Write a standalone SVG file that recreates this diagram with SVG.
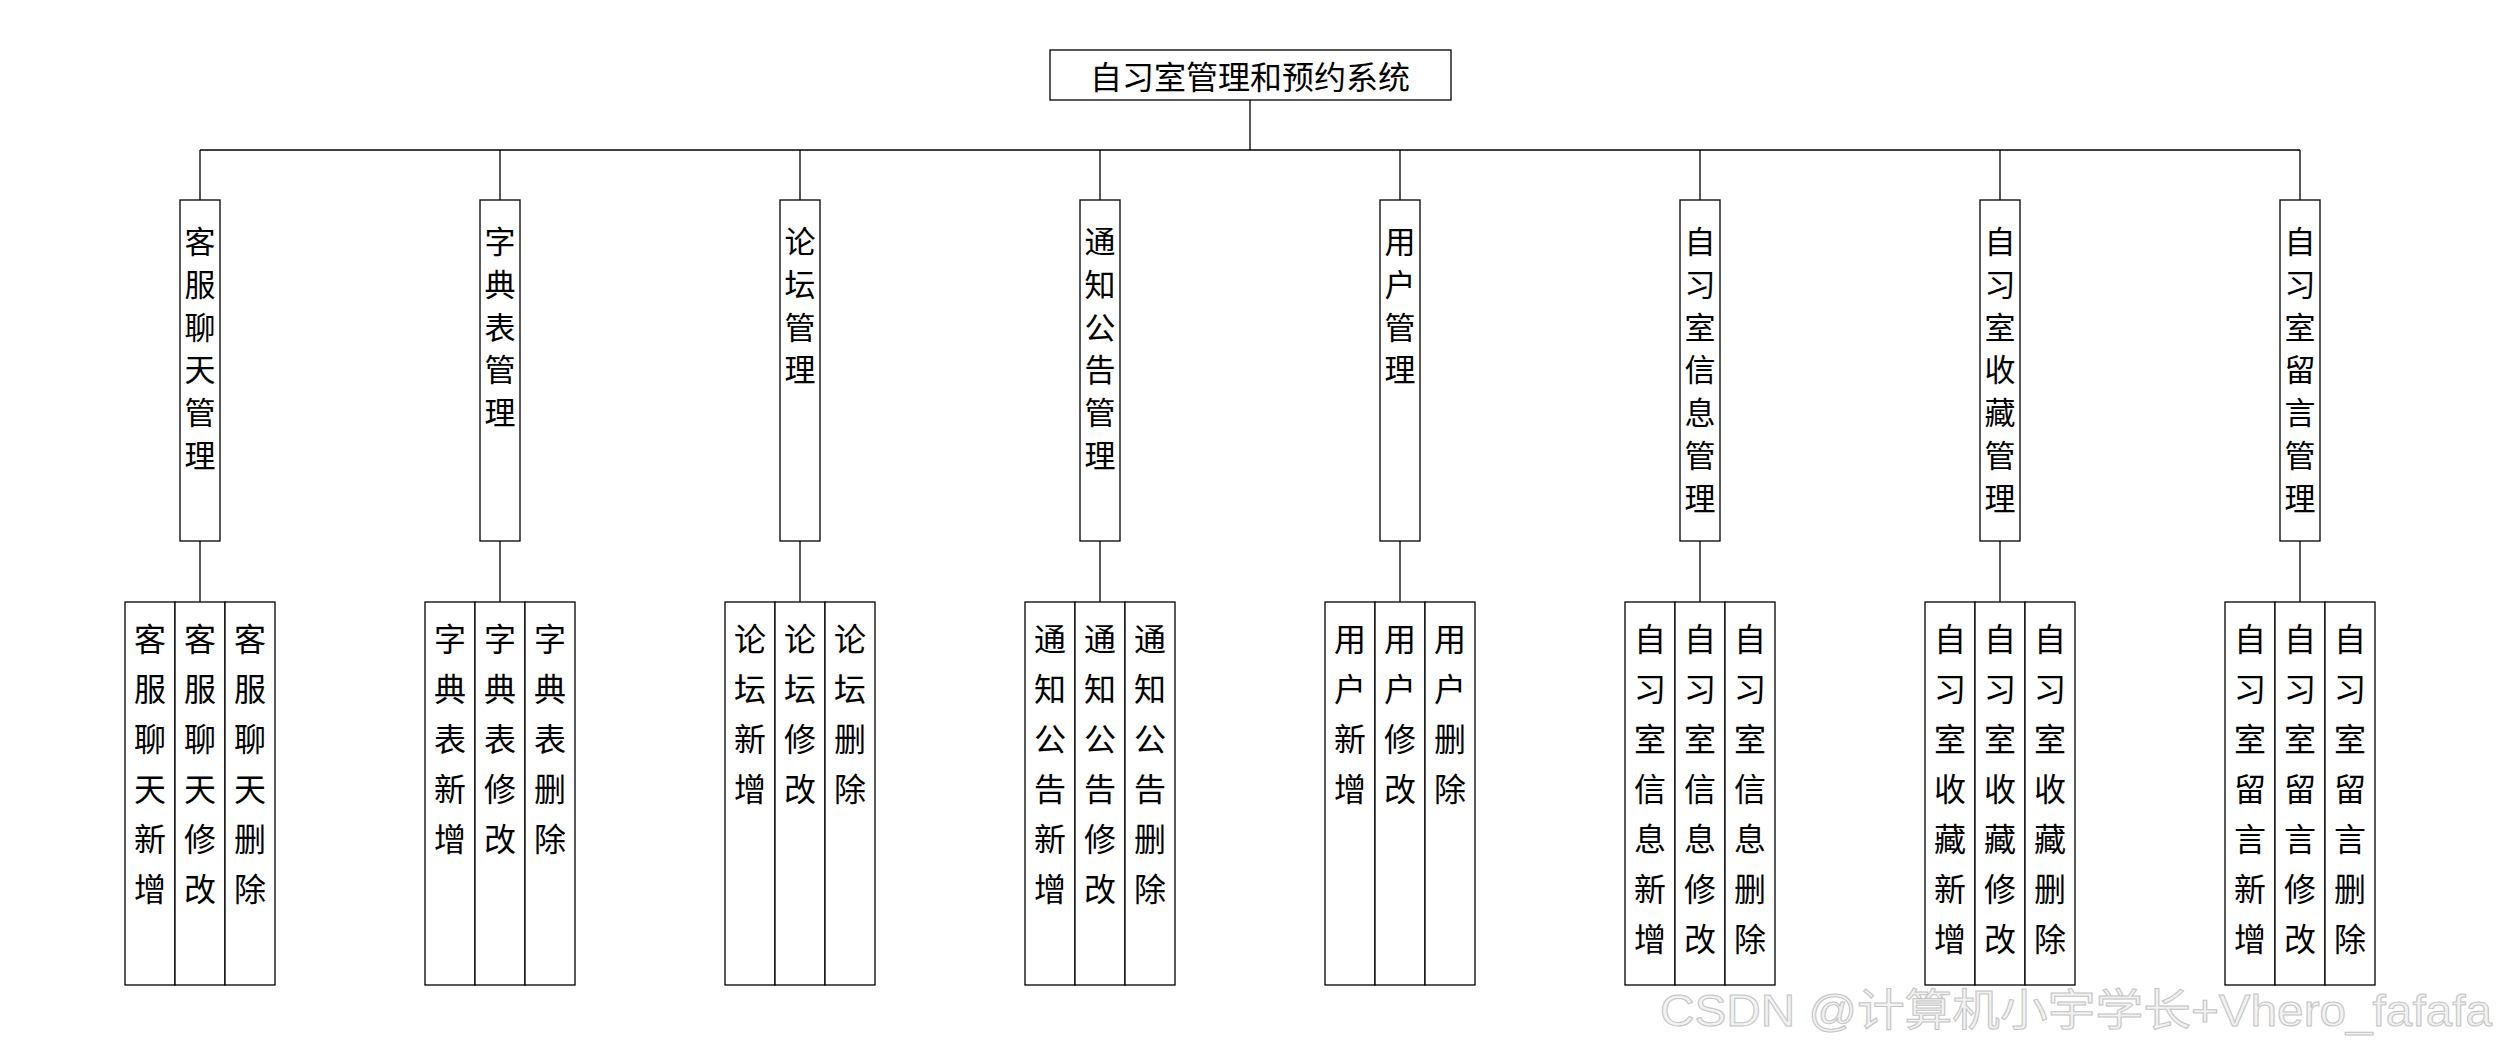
<svg xmlns="http://www.w3.org/2000/svg" width="2500" height="1050" viewBox="0 0 2500 1050">
<style>
.box{fill:#fff;stroke:#000;stroke-width:1.3}
.t{font-family:"Noto Sans CJK SC","Noto Sans",sans-serif;font-size:31px;fill:#000;text-anchor:middle}
.lf{font-size:32px}
.ln{stroke:#000;stroke-width:1.3;fill:none}
.wm{font-family:"Liberation Sans","Noto Sans CJK SC",sans-serif;font-size:44px;fill:#f2f2f2;stroke:#c4c4c4;stroke-width:1}
</style>
<rect width="2500" height="1050" fill="#fff"/>
<g id="connectors">
<path class="ln" d="M1250 100V150M200 150H2300"/>
<path class="ln" d="M200 150V200M500 150V200M800 150V200M1100 150V200M1400 150V200M1700 150V200M2000 150V200M2300 150V200"/>
<path class="ln" d="M200 541V602M500 541V602M800 541V602M1100 541V602M1400 541V602M1700 541V602M2000 541V602M2300 541V602"/>
</g>
<g id="root">
<rect class="box" x="1050" y="50" width="401" height="50"/>
<text class="t" x="1250" y="89" style="font-size:32px">自习室管理和预约系统</text>
</g>
<g id="n0">
<rect class="box" x="180" y="200" width="40" height="341"/>
<text class="t" x="200 200 200 200 200 200" y="253 295.8 338.6 381.4 424.2 467">客服聊天管理</text>
</g>
<g id="n0-leaves">
<rect class="box" x="125" y="602" width="50" height="383"/><rect class="box" x="175" y="602" width="50" height="383"/><rect class="box" x="225" y="602" width="50" height="383"/>
<text class="t lf" x="150 150 150 150 150 150" y="651 701 751 801 851 901">客服聊天新增</text>
<text class="t lf" x="200 200 200 200 200 200" y="651 701 751 801 851 901">客服聊天修改</text>
<text class="t lf" x="250 250 250 250 250 250" y="651 701 751 801 851 901">客服聊天删除</text>
</g>
<g id="n1">
<rect class="box" x="480" y="200" width="40" height="341"/>
<text class="t" x="500 500 500 500 500" y="253 295.8 338.6 381.4 424.2">字典表管理</text>
</g>
<g id="n1-leaves">
<rect class="box" x="425" y="602" width="50" height="383"/><rect class="box" x="475" y="602" width="50" height="383"/><rect class="box" x="525" y="602" width="50" height="383"/>
<text class="t lf" x="450 450 450 450 450" y="651 701 751 801 851">字典表新增</text>
<text class="t lf" x="500 500 500 500 500" y="651 701 751 801 851">字典表修改</text>
<text class="t lf" x="550 550 550 550 550" y="651 701 751 801 851">字典表删除</text>
</g>
<g id="n2">
<rect class="box" x="780" y="200" width="40" height="341"/>
<text class="t" x="800 800 800 800" y="253 295.8 338.6 381.4">论坛管理</text>
</g>
<g id="n2-leaves">
<rect class="box" x="725" y="602" width="50" height="383"/><rect class="box" x="775" y="602" width="50" height="383"/><rect class="box" x="825" y="602" width="50" height="383"/>
<text class="t lf" x="750 750 750 750" y="651 701 751 801">论坛新增</text>
<text class="t lf" x="800 800 800 800" y="651 701 751 801">论坛修改</text>
<text class="t lf" x="850 850 850 850" y="651 701 751 801">论坛删除</text>
</g>
<g id="n3">
<rect class="box" x="1080" y="200" width="40" height="341"/>
<text class="t" x="1100 1100 1100 1100 1100 1100" y="253 295.8 338.6 381.4 424.2 467">通知公告管理</text>
</g>
<g id="n3-leaves">
<rect class="box" x="1025" y="602" width="50" height="383"/><rect class="box" x="1075" y="602" width="50" height="383"/><rect class="box" x="1125" y="602" width="50" height="383"/>
<text class="t lf" x="1050 1050 1050 1050 1050 1050" y="651 701 751 801 851 901">通知公告新增</text>
<text class="t lf" x="1100 1100 1100 1100 1100 1100" y="651 701 751 801 851 901">通知公告修改</text>
<text class="t lf" x="1150 1150 1150 1150 1150 1150" y="651 701 751 801 851 901">通知公告删除</text>
</g>
<g id="n4">
<rect class="box" x="1380" y="200" width="40" height="341"/>
<text class="t" x="1400 1400 1400 1400" y="253 295.8 338.6 381.4">用户管理</text>
</g>
<g id="n4-leaves">
<rect class="box" x="1325" y="602" width="50" height="383"/><rect class="box" x="1375" y="602" width="50" height="383"/><rect class="box" x="1425" y="602" width="50" height="383"/>
<text class="t lf" x="1350 1350 1350 1350" y="651 701 751 801">用户新增</text>
<text class="t lf" x="1400 1400 1400 1400" y="651 701 751 801">用户修改</text>
<text class="t lf" x="1450 1450 1450 1450" y="651 701 751 801">用户删除</text>
</g>
<g id="n5">
<rect class="box" x="1680" y="200" width="40" height="341"/>
<text class="t" x="1700 1700 1700 1700 1700 1700 1700" y="253 295.8 338.6 381.4 424.2 467 509.8">自习室信息管理</text>
</g>
<g id="n5-leaves">
<rect class="box" x="1625" y="602" width="50" height="383"/><rect class="box" x="1675" y="602" width="50" height="383"/><rect class="box" x="1725" y="602" width="50" height="383"/>
<text class="t lf" x="1650 1650 1650 1650 1650 1650 1650" y="651 701 751 801 851 901 951">自习室信息新增</text>
<text class="t lf" x="1700 1700 1700 1700 1700 1700 1700" y="651 701 751 801 851 901 951">自习室信息修改</text>
<text class="t lf" x="1750 1750 1750 1750 1750 1750 1750" y="651 701 751 801 851 901 951">自习室信息删除</text>
</g>
<g id="n6">
<rect class="box" x="1980" y="200" width="40" height="341"/>
<text class="t" x="2000 2000 2000 2000 2000 2000 2000" y="253 295.8 338.6 381.4 424.2 467 509.8">自习室收藏管理</text>
</g>
<g id="n6-leaves">
<rect class="box" x="1925" y="602" width="50" height="383"/><rect class="box" x="1975" y="602" width="50" height="383"/><rect class="box" x="2025" y="602" width="50" height="383"/>
<text class="t lf" x="1950 1950 1950 1950 1950 1950 1950" y="651 701 751 801 851 901 951">自习室收藏新增</text>
<text class="t lf" x="2000 2000 2000 2000 2000 2000 2000" y="651 701 751 801 851 901 951">自习室收藏修改</text>
<text class="t lf" x="2050 2050 2050 2050 2050 2050 2050" y="651 701 751 801 851 901 951">自习室收藏删除</text>
</g>
<g id="n7">
<rect class="box" x="2280" y="200" width="40" height="341"/>
<text class="t" x="2300 2300 2300 2300 2300 2300 2300" y="253 295.8 338.6 381.4 424.2 467 509.8">自习室留言管理</text>
</g>
<g id="n7-leaves">
<rect class="box" x="2225" y="602" width="50" height="383"/><rect class="box" x="2275" y="602" width="50" height="383"/><rect class="box" x="2325" y="602" width="50" height="383"/>
<text class="t lf" x="2250 2250 2250 2250 2250 2250 2250" y="651 701 751 801 851 901 951">自习室留言新增</text>
<text class="t lf" x="2300 2300 2300 2300 2300 2300 2300" y="651 701 751 801 851 901 951">自习室留言修改</text>
<text class="t lf" x="2350 2350 2350 2350 2350 2350 2350" y="651 701 751 801 851 901 951">自习室留言删除</text>
</g>
<text class="wm" x="1660" y="1026" textLength="832" lengthAdjust="spacingAndGlyphs">CSDN @计算机小宇学长+Vhero_fafafa</text>
</svg>
